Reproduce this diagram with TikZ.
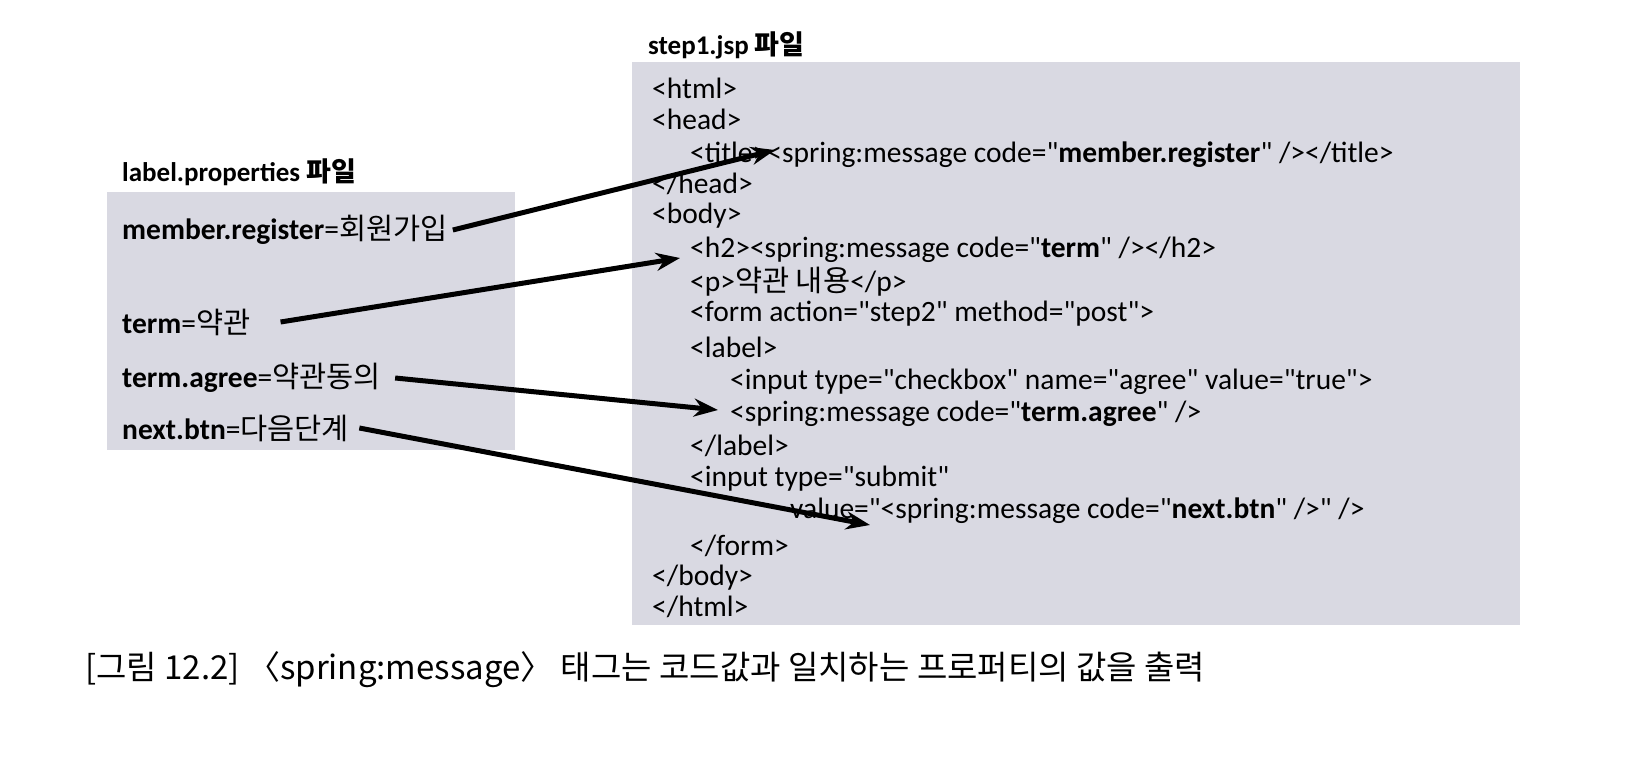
\documentclass[tikz,border=0pt]{standalone}
\usetikzlibrary{arrows.meta}
\usepackage{fontspec}
\setmainfont{Carlito}
\newfontfamily\kr{Noto Sans CJK KR}
\definecolor{boxbg}{HTML}{D9D9E2}
\newcommand{\qq}{\textquotedbl}
\begin{document}
\begin{tikzpicture}[x=1pt,y=-1pt,
  code/.style={anchor=west,inner sep=0pt,font=\fontsize{29.5}{29.5}\selectfont},
  ttl/.style={anchor=west,inner sep=0pt,font=\fontsize{27}{27}\selectfont\bfseries},
  arr/.style={-{Stealth[length=24pt,width=18pt]},line width=5pt,black}]
\useasboundingbox (0,0) rectangle (1652,776);
\fill[boxbg] (107,192) rectangle (515,450);
\fill[boxbg] (632,62) rectangle (1520,625);
\node[ttl] (lt) at (122,172) {label.properties {\kr 파일}};
\node[ttl] (rt) at (648,45) {step1.jsp {\kr 파일}};
\node[code] (p1) at (122,230) {\textbf{member.register}={\kr 회원가입}};
\node[code] (p2) at (122,322) {\textbf{term}={\kr 약관}};
\node[code] (p3) at (122,378) {\textbf{term.agree}={\kr 약관동의}};
\node[code] (p4) at (122,428) {\textbf{next.btn}={\kr 다음단계}};
\node[code] (c1) at (652,88) {<html>};
\node[code] (c2) at (652,119) {<head>};
\node[code] (c3) at (690,155) {<title><spring:message code=\qq\textbf{member.register}\qq{} /></title>};
\node[code] (c4) at (652,184) {</head>};
\node[code] (c5) at (652,216) {<body>};
\node[code] (c6) at (690,250) {<h2><spring:message code=\qq\textbf{term}\qq{} /></h2>};
\node[code] (c7) at (690,282) {<p>{\kr 약관 내용}</p>};
\node[code] (c8) at (690,314) {<form action=\qq step2\qq{} method=\qq post\qq>};
\node[code] (c9) at (690,347) {<label>};
\node[code] (c10) at (730,382) {<input type=\qq checkbox\qq{} name=\qq agree\qq{} value=\qq true\qq>};
\node[code] (c11) at (730,414) {<spring:message code=\qq\textbf{term.agree}\qq{} />};
\node[code] (c12) at (690,446) {</label>};
\node[code] (c13) at (690,479) {<input type=\qq submit\qq};
\node[code] (c14) at (790,511) {value=\qq<spring:message code=\qq\textbf{next.btn}\qq{} />\qq{} />};
\node[code] (c15) at (690,546) {</form>};
\node[code] (c16) at (652,578) {</body>};
\node[code] (c17) at (652,607) {</html>};
\coordinate (a1) at (775,150);
\coordinate (a2) at (680,258);
\coordinate (a3) at (718,410);
\coordinate (a4) at (870,525);
\draw[arr] ([xshift=5pt]p1.east) -- (a1);
\draw[arr] ([xshift=30pt]p2.east) -- (a2);
\draw[arr] ([xshift=14pt]p3.east) -- (a3);
\draw[arr] ([xshift=10pt]p4.east) -- (a4);
\node[anchor=west,inner sep=0pt,font=\kr\fontsize{33}{33}\selectfont] (cap) at (85,670) {[그림 12.2] 〈spring:message〉 태그는 코드값과 일치하는 프로퍼티의 값을 출력};
\end{tikzpicture}
\end{document}
